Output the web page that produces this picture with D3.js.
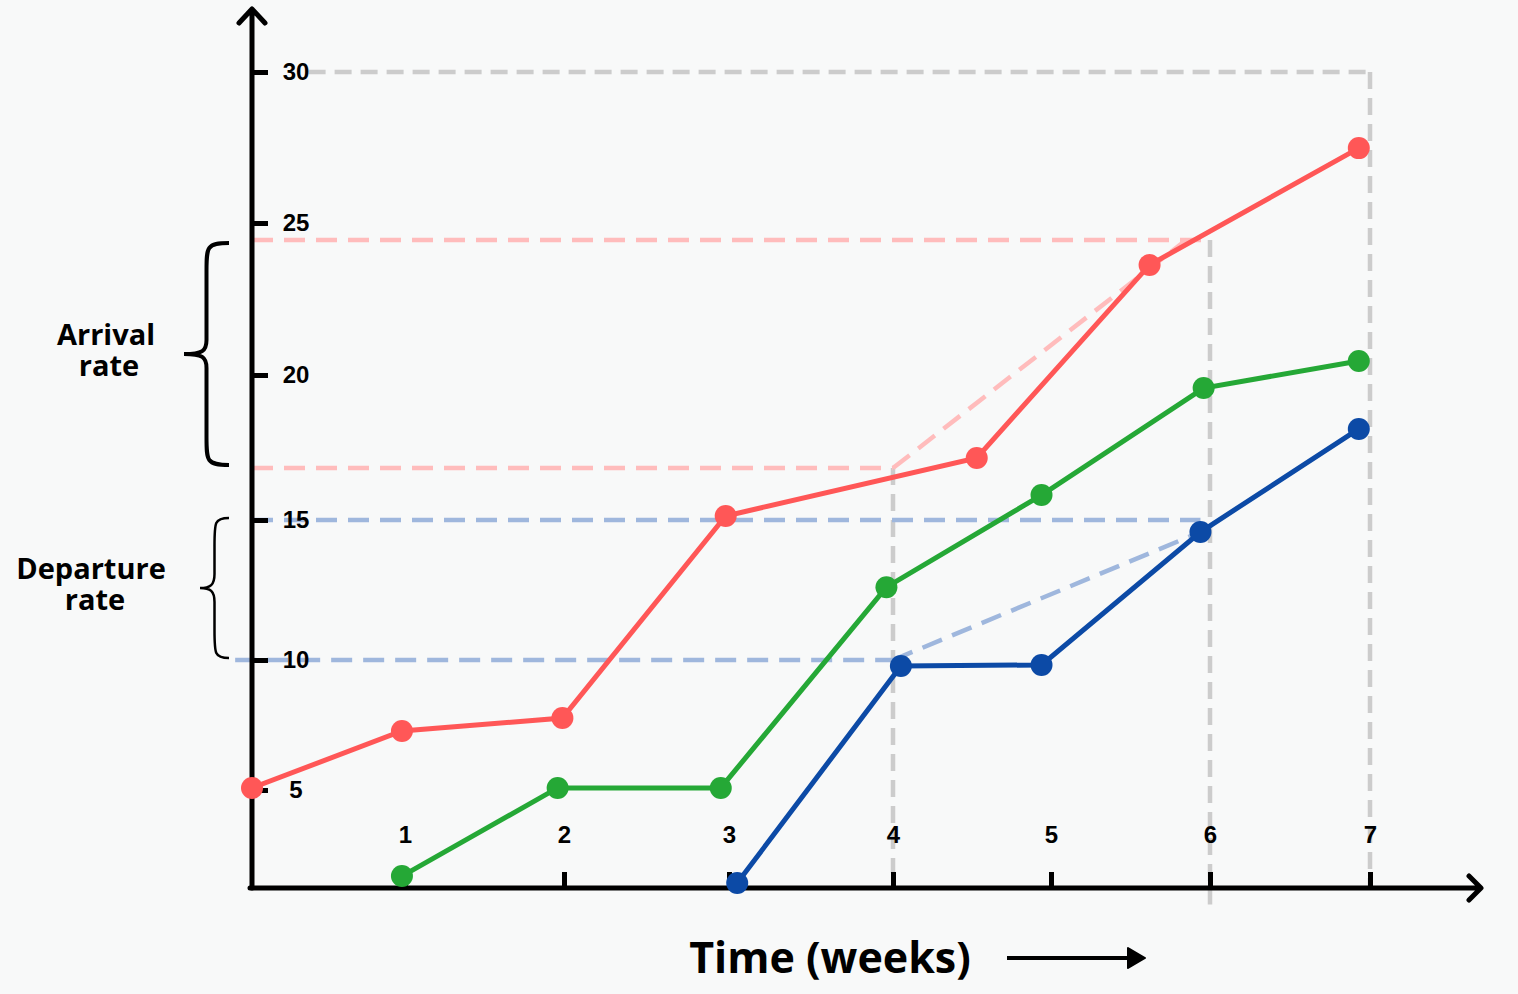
<!DOCTYPE html>
<html>
<head>
<meta charset="utf-8">
<script src="https://cdn.jsdelivr.net/npm/d3@7"></script>
<style>
  body { margin: 0; background: #f8f9f9; }
  svg { display: block; font-family: "Open Sans", sans-serif; }
  .label { font-weight: 700; fill: #000; }
</style>
</head>
<body>
<svg width="1518" height="994"></svg>
<script>
// data (weeks, rate)
const arrivalX = [0, 0.98, 1.99, 2.98, 4.53, 5.62, 6.93]
const arrivalY = [5.08, 7.27, 7.77, 15.14, 17.14, 23.62, 27.48]
const throughputX = [0.98, 1.96, 2.95, 3.96, 4.94, 5.96, 6.93]
const throughputY = [1.69, 5.08, 5.08, 12.6, 15.86, 19.55, 20.46]
const departureX = [3.05, 4.05, 4.94, 5.94, 6.93]
const departureY = [1.42, 9.77, 9.81, 14.57, 18.14]

const xTicks = [1, 2, 3, 4, 5, 6, 7]
const yTicks = [5, 10, 15, 20, 25, 30]

// guide lines [x1, y1, x2, y2]
const grayGuides = [[0.37, 30, 7, 30], [7, 30, 7, 1.3], [4, 16.79, 4, 1.8], [6, 24.44, 6, 0.6]]
const pinkGuides = [[0, 24.44, 6, 24.44], [0, 16.79, 4, 16.79], [4, 16.79, 5.85, 24.44]]
const blueGuides = [[0, 15, 5.94, 15], [-0.11, 10, 4, 10], [4, 10, 5.94, 14.57]]

const svg = d3.select("svg")

// scales (hand-drawn axis, so piecewise)
const x = d3.scaleLinear()
  .domain([0, 1, 2, 3, 4, 5, 6, 7])
  .range([252, 405, 564, 729, 893, 1051, 1210, 1370])
const y = d3.scaleLinear()
  .domain([5, 10, 15, 20, 25, 30])
  .range([790, 660, 520, 375, 223, 72])

const axisY = 888, axisX = 252

// guides
const drawGuides = (list, color, dash) => {
  svg.append("g")
    .selectAll("line")
    .data(list)
    .enter()
    .append("line")
    .attr("x1", d => x(d[0]))
    .attr("y1", d => y(d[1]))
    .attr("x2", d => x(d[2]))
    .attr("y2", d => y(d[3]))
    .attr("stroke", color)
    .attr("stroke-width", 4.5)
    .attr("stroke-dasharray", dash)
}
drawGuides(grayGuides, "#cccccc", "17 9")
drawGuides(pinkGuides, "#ffbcbc", "21 11")
drawGuides(blueGuides, "#9fb7dd", "21 11")

// axes
svg.append("g")
  .attr("transform", `translate(0,${axisY})`)
  .call(d3.axisTop(x).tickValues(xTicks).tickSize(16).tickPadding(29).tickFormat(d3.format("d")))
  .call(g => g.select(".domain").remove())
  .call(g => g.selectAll(".tick line").attr("stroke", "#000").attr("stroke-width", 5))
  .call(g => g.selectAll(".tick text").attr("font-size", 24).attr("font-weight", 700).attr("fill", "#000"))

svg.append("g")
  .attr("transform", `translate(${axisX},0)`)
  .call(d3.axisRight(y).tickValues(yTicks).tickSize(16).tickPadding(28).tickFormat(d3.format("d")))
  .call(g => g.select(".domain").remove())
  .call(g => g.selectAll(".tick line").attr("stroke", "#000").attr("stroke-width", 5))
  .call(g => g.selectAll(".tick text").attr("text-anchor", "middle")
    .attr("font-size", 24).attr("font-weight", 700).attr("fill", "#000"))

// axis lines with open arrow heads
svg.append("path")
  .attr("d", `M${axisX},${axisY} V10 M239,23 L${axisX},9 L265,23`)
  .attr("fill", "none")
  .attr("stroke", "#000")
  .attr("stroke-width", 5)
  .attr("stroke-linecap", "round")
  .attr("stroke-linejoin", "round")
svg.append("path")
  .attr("d", `M${axisX - 2},${axisY} H1480 M1469,876 L1481,${axisY} L1469,900`)
  .attr("fill", "none")
  .attr("stroke", "#000")
  .attr("stroke-width", 5)
  .attr("stroke-linecap", "round")
  .attr("stroke-linejoin", "round")

// series
const series = [
  { xs: arrivalX, ys: arrivalY, color: "#ff5757" },
  { xs: throughputX, ys: throughputY, color: "#25a836" },
  { xs: departureX, ys: departureY, color: "#0c4aa6" }
]
const line = d3.line()
  .x(d => x(d[0]))
  .y(d => y(d[1]))

series.forEach(s => {
  const pts = s.xs.map((v, i) => [v, s.ys[i]])
  svg.append("path")
    .datum(pts)
    .attr("d", line)
    .attr("fill", "none")
    .attr("stroke", s.color)
    .attr("stroke-width", 5)
  svg.append("g")
    .selectAll("circle")
    .data(pts)
    .enter()
    .append("circle")
    .attr("cx", d => x(d[0]))
    .attr("cy", d => y(d[1]))
    .attr("r", 11)
    .attr("fill", s.color)
})

// braces
const brace = (xEnd, xTip, y0, y1) => {
  const m = (y0 + y1) / 2
  const xm = (xEnd + xTip) / 2
  const r = 14
  return `M${xEnd},${y0} C${xm},${y0} ${xm},${y0 + 4} ${xm},${y0 + r * 2}` +
    ` L${xm},${m - r} C${xm},${m - 3} ${xm - 4},${m} ${xTip},${m}` +
    ` C${xm - 4},${m} ${xm},${m + 3} ${xm},${m + r}` +
    ` L${xm},${y1 - r * 2} C${xm},${y1 - 4} ${xm},${y1} ${xEnd},${y1}`
}
svg.append("path")
  .attr("d", brace(229, 184, 243, 465))
  .attr("fill", "none").attr("stroke", "#000").attr("stroke-width", 4)
svg.append("path")
  .attr("d", brace(229, 200, 518, 658))
  .attr("fill", "none").attr("stroke", "#000").attr("stroke-width", 2.5)

// labels (two-line ones as one text with tspans)
const addText = (tx, ty, size, lines) => {
  const t = svg.append("text")
    .attr("class", "label")
    .attr("y", ty)
    .attr("text-anchor", "middle")
    .style("font-size", size + "px")
  lines.forEach((str, i) => {
    t.append("tspan")
      .attr("x", tx[i])
      .attr("dy", i === 0 ? 0 : 31)
      .text(str)
  })
}

addText([106, 109], 345, 29, ["Arrival", "rate"])
addText([91, 95], 579, 29, ["Departure", "rate"])
addText([830], 973, 43, ["Time (weeks)"])

// arrow next to x title
svg.append("line")
  .attr("x1", 1007).attr("y1", 958).attr("x2", 1132).attr("y2", 958)
  .attr("stroke", "#000").attr("stroke-width", 4)
svg.append("path")
  .attr("d", "M1128,948 L1145,958 L1128,968 Z")
  .attr("fill", "#000").attr("stroke", "#000").attr("stroke-width", 2).attr("stroke-linejoin", "round")
</script>
</body>
</html>
